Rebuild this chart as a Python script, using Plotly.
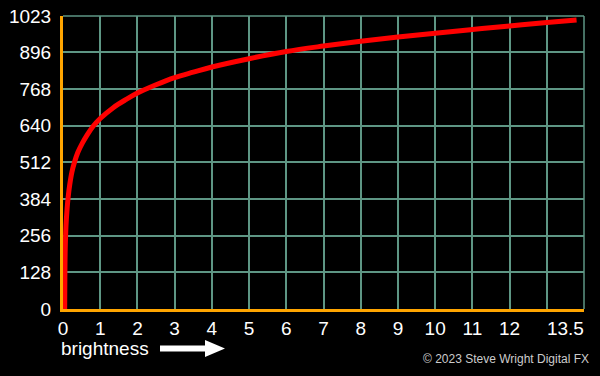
import plotly.graph_objects as go

# Curve
brightness = [0.045, 0.05, 0.06, 0.08, 0.11, 0.14, 0.18, 0.24, 0.31, 0.4, 0.52, 0.65, 0.81,
              1, 1.35, 1.7, 2, 2.5, 3, 3.5, 4, 5, 6, 7, 8, 9, 10, 11, 12, 13, 13.8]
code_value = [0, 110, 210, 290, 350, 392, 433, 478, 513, 547, 579, 608, 638,
              665, 703, 732, 754, 783, 808, 827, 845, 874, 899, 918, 935, 950, 963, 976, 988, 1000, 1009]

x_tick_vals = [0, 1, 2, 3, 4, 5, 6, 7, 8, 9, 10, 11, 12, 13.5]
x_tick_text = ["0", "1", "2", "3", "4", "5", "6", "7", "8", "9", "10", "11", "12", "13.5"]
y_tick_vals = [0, 128, 256, 384, 512, 640, 768, 896, 1023]
y_tick_text = ["0", "128", "256", "384", "512", "640", "768", "896", "1023"]

GRID = "#5E9684"
ORANGE = "#FFA500"
FONT = "Liberation Sans, Arial, sans-serif"

fig = go.Figure()
fig.add_trace(go.Scatter(x=brightness, y=code_value, mode="lines",
                         line=dict(color="#FF0000", width=5, shape="spline", smoothing=1.0),
                         hoverinfo="skip"))

fig.update_layout(
    width=600, height=376,
    margin=dict(l=63, r=16, t=16, b=67),
    paper_bgcolor="black", plot_bgcolor="black",
    showlegend=False,
    font=dict(family=FONT, color="white", size=19),
    xaxis=dict(range=[0, 14], tickmode="array", tickvals=x_tick_vals, ticktext=x_tick_text,
               showgrid=False, zeroline=False, automargin=False,
               showline=True, linecolor=ORANGE, linewidth=3,
               ticks="",
               tickfont=dict(size=19, color="white", family=FONT),
               minor=dict(tick0=0, dtick=1, showgrid=True, gridcolor=GRID, gridwidth=1.5, ticks="")),
    yaxis=dict(range=[0, 1023], tickmode="array", tickvals=y_tick_vals, ticktext=y_tick_text,
               showgrid=True, gridcolor=GRID, gridwidth=1.5, zeroline=False, automargin=False,
               showline=True, linecolor=ORANGE, linewidth=3,
               ticks="outside", ticklen=5, tickcolor="rgba(0,0,0,0)",
               tickfont=dict(size=19, color="white", family=FONT)),
)

# right and top border lines in grid colour
fig.add_shape(type="line", xref="paper", yref="paper", x0=1, x1=1, y0=0, y1=1,
              line=dict(color=GRID, width=1.5), layer="below")
fig.add_shape(type="line", xref="paper", yref="paper", x0=0, x1=1, y0=1, y1=1,
              line=dict(color=GRID, width=1.5), layer="below")

def px(xp):
    return (xp - 63) / 521.0
def py(yp):
    return (309 - yp) / 293.0

# "brightness" label with arrow
fig.add_annotation(text="brightness", xref="paper", yref="paper",
                   x=px(59), y=py(348), xanchor="left", yanchor="middle", showarrow=False,
                   font=dict(size=19, color="white", family=FONT))
fig.add_shape(type="path", xref="paper", yref="paper",
              path=(f"M {px(160)} {py(345.5)} L {px(205)} {py(345.5)} L {px(205)} {py(340)} "
                    f"L {px(225)} {py(348.5)} L {px(205)} {py(357)} L {px(205)} {py(351.5)} "
                    f"L {px(160)} {py(351.5)} Z"),
              fillcolor="white", line=dict(width=0))

fig.add_annotation(text="© 2023 Steve Wright Digital FX", xref="paper", yref="paper",
                   x=px(591), y=py(359), xanchor="right", yanchor="middle", showarrow=False,
                   font=dict(size=12, color="#CCCCCC", family=FONT))

fig.write_html("out.html")
